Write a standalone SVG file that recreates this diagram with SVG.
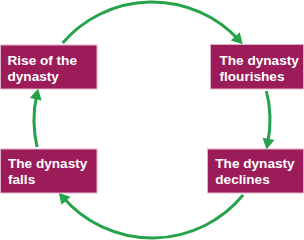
<svg xmlns="http://www.w3.org/2000/svg" width="304" height="240" viewBox="0 0 304 240">
<defs>
<style>
.box{fill:#9c1c5a;stroke:#e3b3cc;stroke-width:1}
.lbl{font-family:"Liberation Sans",Arial,sans-serif;font-weight:bold;font-size:13.6px;fill:#ffffff}
.arc{fill:none;stroke:#25a24a;stroke-width:3}
</style>
<marker id="ah" markerUnits="userSpaceOnUse" markerWidth="12" markerHeight="12" refX="4" refY="5.5" orient="auto" viewBox="0 0 10 11">
<path d="M0,0 L10,5.5 L0,11 z" fill="#25a24a"/>
</marker>
</defs>
<rect width="304" height="240" fill="#ffffff"/>
<g id="connectors">
<path class="arc" d="M62.6,43 A118,118 0 0 1 238.3,39.5" marker-end="url(#ah)"/>
<path class="arc" d="M266.4,91 A118,118 0 0 1 267.7,143.1" marker-end="url(#ah)"/>
<path class="arc" d="M243.1,195 A118,118 0 0 1 63.1,197.6" marker-end="url(#ah)"/>
<path class="arc" d="M37.1,147 A118,118 0 0 1 36.7,94.9" marker-end="url(#ah)"/>
</g>
<g id="rise">
<rect class="box" x="0.5" y="45" width="96.5" height="44"/>
<text class="lbl" x="7.5" y="65">Rise of the</text>
<text class="lbl" x="7.5" y="80.5">dynasty</text>
</g>
<g id="flourishes">
<rect class="box" x="210.5" y="44.5" width="93" height="44.5"/>
<text class="lbl" x="219.5" y="65">The dynasty</text>
<text class="lbl" x="219.5" y="80.5">flourishes</text>
</g>
<g id="declines">
<rect class="box" x="207.5" y="149" width="96" height="44"/>
<text class="lbl" x="215.3" y="168">The dynasty</text>
<text class="lbl" x="215.3" y="184">declines</text>
</g>
<g id="falls">
<rect class="box" x="0.5" y="149" width="96.5" height="44"/>
<text class="lbl" x="8" y="168">The dynasty</text>
<text class="lbl" x="8" y="184">falls</text>
</g>
</svg>
